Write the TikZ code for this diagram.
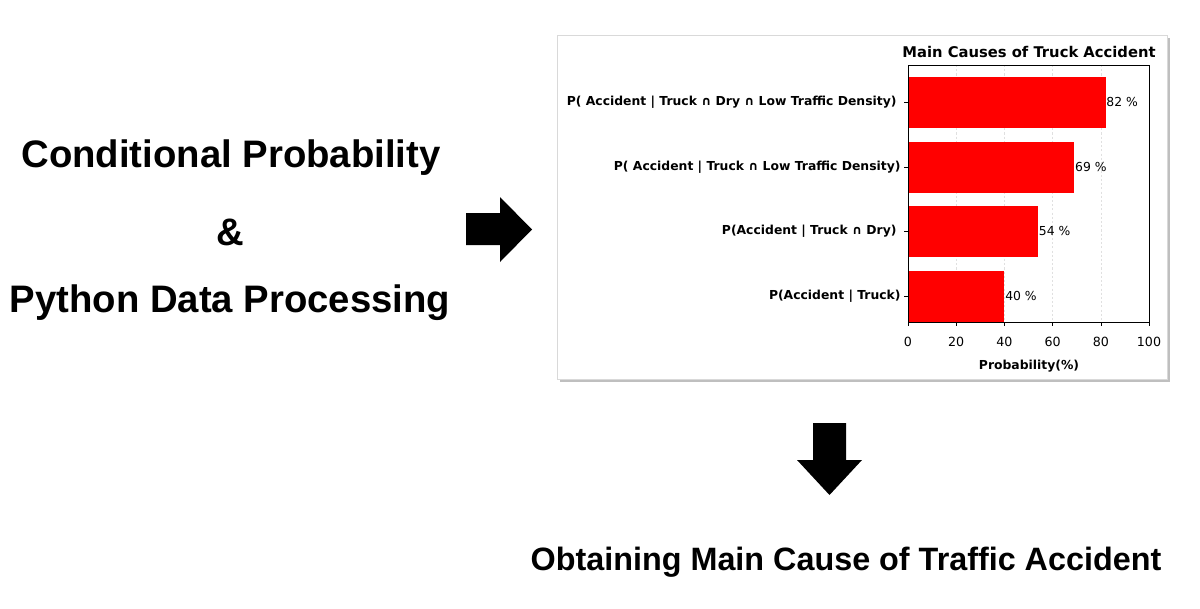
\documentclass[tikz,border=0pt]{standalone}
\usepackage{fontspec}
\setmainfont{Liberation Sans}
\newfontfamily\dv{DejaVu Sans}
\begin{document}
\begin{tikzpicture}[x=0.05cm,y=-0.05cm,
  big/.style={font=\fontsize{54.5}{56}\selectfont\bfseries},
  bot/.style={font=\fontsize{46}{48}\selectfont\bfseries},
  lab/.style={font=\dv\fontsize{17.6}{18}\selectfont\bfseries, anchor=east},
  val/.style={font=\dv\fontsize{17.6}{18}\selectfont, anchor=west, inner sep=1pt},
  tick/.style={font=\dv\fontsize{18}{18}\selectfont, anchor=north},
  bar/.style={fill=red, draw=none}]
\useasboundingbox (0,0) rectangle (1200,608);
\fill[white] (0,0) rectangle (1200,608);
% text
\node[big] (t1) at (231,158) {Conditional Probability};
\node[big] (t2) at (230,232) {\&};
\node[big] (t3) at (230,303) {Python Data Processing};
\node[bot] (t4) at (846,562) {Obtaining Main Cause of Traffic Accident};
% arrows
\fill (466,213) -- (500,213) -- (500,197) -- (532,229.5) -- (500,262) -- (500,245) -- (466,245) -- cycle;
\fill (813,423) -- (846,423) -- (846,460) -- (862,460) -- (829.5,495) -- (797,460) -- (813,460) -- cycle;
% chart frame with shadow
\fill[black!25] (560,38) rectangle (1170,382);
\fill[white] (557,35) rectangle (1167,379);
\draw[black!15] (557,35) rectangle (1167,379);
\node[font=\dv\fontsize{21}{22}\selectfont\bfseries] (ttl) at (1029,52) {Main Causes of Truck Accident};
% grid
\foreach \v in {20,40,60,80} \draw[black!12, dashed] ({908+2.41*\v},65) -- ({908+2.41*\v},322);
% bars
\foreach \v/\y/\n in {82/102/b1,69/167/b2,54/231/b3,40/296/b4}{
  \fill[bar] (908,\y-25.5) rectangle ({908+2.41*\v},\y+25.5);
  \node[val] (\n) at ({908+2.41*\v},\y) {\v\ \%};
}
\draw[black, line width=0.8pt] (908,65) rectangle (1149,322);
\foreach \v in {0,20,40,60,80,100}{
  \draw ({908+2.41*\v},322) -- ({908+2.41*\v},326);
  \node[tick] (x\v) at ({908+2.41*\v},335) {\v};
}
\foreach \y in {102,167,231,296} \draw (908,\y) -- (904,\y);
\node[lab] (l1) at (899,102) {P( Accident | Truck ∩ Dry ∩ Low Traffic Density)};
\node[lab] (l2) at (903,167) {P( Accident | Truck ∩ Low Traffic Density)};
\node[lab] (l3) at (899,231) {P(Accident | Truck ∩ Dry)};
\node[lab] (l4) at (903,296) {P(Accident | Truck)};
\node[font=\dv\fontsize{17.6}{18}\selectfont\bfseries] (xl) at (1029,366) {Probability(\%)};
\end{tikzpicture}
\end{document}
